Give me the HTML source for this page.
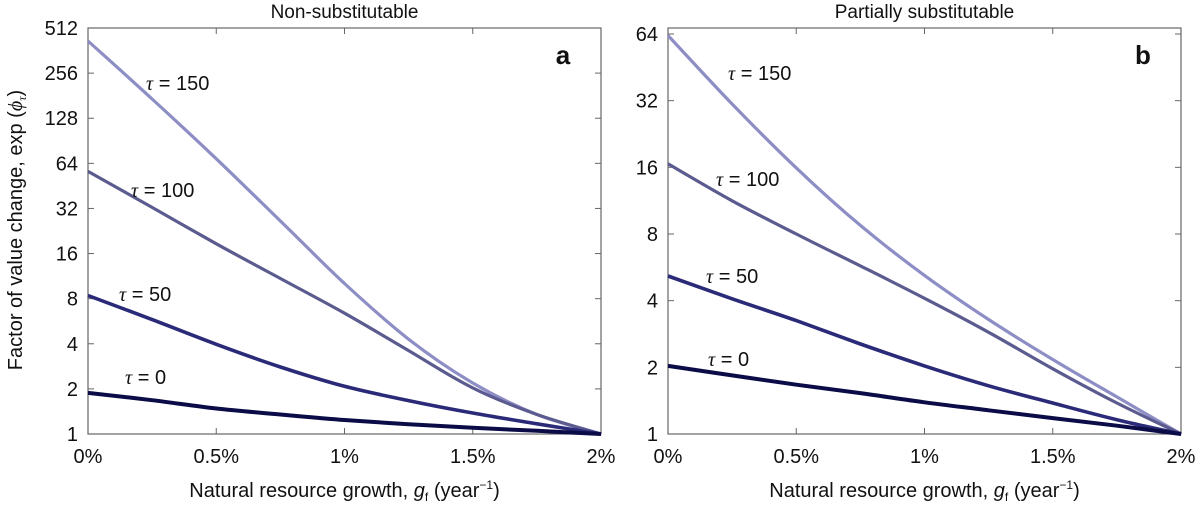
<!DOCTYPE html>
<html><head><meta charset="utf-8">
<style>
html,body{margin:0;padding:0;background:#fff;}
svg{display:block;font-family:"Liberation Sans",Arial,sans-serif;}
</style></head>
<body>
<svg id="chart" width="1200" height="506" viewBox="0 0 1200 506" xmlns="http://www.w3.org/2000/svg">
<text transform="translate(22,230) rotate(-90)" text-anchor="middle" font-size="20" fill="#111">Factor of value change, exp (<tspan font-family="Liberation Serif" font-style="italic">ϕ</tspan><tspan font-size="12" dy="4" font-family="Liberation Serif" font-style="italic">τ</tspan><tspan dy="-4">)</tspan></text>
</svg>
<script>
const xTicks = [0, 0.5, 1, 1.5, 2];
const xTickLabels = ["0%", "0.5%", "1%", "1.5%", "2%"];
const xGrid = [0, 0.25, 0.5, 0.75, 1, 1.25, 1.5, 1.75, 2];
const taus = ["150", "100", "50", "0"];
const aTicks = [1, 2, 4, 8, 16, 32, 64, 128, 256, 512];
const bTicks = [1, 2, 4, 8, 16, 32, 64];
const a150 = [419, 172, 68.6, 26.4, 10.1, 4.29, 2.19, 1.35, 1];
const a100 = [56.5, 32.5, 18.6, 10.9, 6.4, 3.6, 2.03, 1.35, 1];
const a50 = [8.4, 5.8, 3.97, 2.8, 2.08, 1.67, 1.38, 1.17, 1];
const a0 = [1.88, 1.68, 1.48, 1.35, 1.24, 1.16, 1.10, 1.05, 1];
const b150 = [63, 30.9, 15.9, 8.75, 5.2, 3.29, 2.17, 1.47, 1];
const b100 = [16.6, 11.3, 8.0, 5.74, 4.1, 2.88, 1.97, 1.38, 1];
const b50 = [5.17, 4.08, 3.25, 2.55, 2.03, 1.65, 1.38, 1.16, 1];
const b0 = [2.03, 1.84, 1.67, 1.53, 1.39, 1.28, 1.18, 1.09, 1];

const NS = "http://www.w3.org/2000/svg";
const svg = document.getElementById("chart");
function mk(tag, attrs, parent) {
  const e = document.createElementNS(NS, tag);
  for (const k in attrs) e.setAttribute(k, attrs[k]);
  (parent || svg).appendChild(e);
  return e;
}
function smooth(pts) {
  let d = "M" + pts[0][0].toFixed(1) + "," + pts[0][1].toFixed(1);
  for (let i = 0; i < pts.length - 1; i++) {
    const p0 = pts[Math.max(0, i - 1)], p1 = pts[i], p2 = pts[i + 1], p3 = pts[Math.min(pts.length - 1, i + 2)];
    const c1 = [p1[0] + (p2[0] - p0[0]) / 6, p1[1] + (p2[1] - p0[1]) / 6];
    const c2 = [p2[0] - (p3[0] - p1[0]) / 6, p2[1] - (p3[1] - p1[1]) / 6];
    d += " C" + c1[0].toFixed(1) + "," + c1[1].toFixed(1) + " " + c2[0].toFixed(1) + "," + c2[1].toFixed(1) + " " + p2[0].toFixed(1) + "," + p2[1].toFixed(1);
  }
  return d;
}
const colors = ["#8e8ec6", "#5b5b8f", "#2a2a78", "#0b0b48"];
const widths = [3.2, 3.2, 3.6, 4];

function panel(cfg) {
  const g = mk("g", {});
  
  
  const L = cfg.left, R = cfg.left + 513, T = 28, B = 434;
  const xs = v => L + (v / 2) * (R - L);
  const ys = v => B - Math.log2(v) / cfg.maxLog * (B - T);
  const frame = mk("rect", {x: L, y: T, width: R - L, height: B - T, fill: "none", stroke: "#666", "stroke-width": 1.2}, g);
  
  
  const title = mk("text", {x: (L + R) / 2, y: 18, "text-anchor": "middle", "font-size": 19, fill: "#111"}, g);
  title.textContent = cfg.title;
  
  
  const letter = mk("text", {x: R - 38, y: 64, "text-anchor": "middle", "font-size": 26, "font-weight": "bold", fill: "#111"}, g);
  letter.textContent = cfg.letter;
  
  
  xTicks.forEach((t, i) => {
    const x = xs(t);
    mk("line", {x1: x, y1: B, x2: x, y2: B - 6, stroke: "#666", "stroke-width": 1}, g);
    mk("line", {x1: x, y1: T, x2: x, y2: T + 6, stroke: "#666", "stroke-width": 1}, g);
    const lb = mk("text", {x: x, y: 463, "text-anchor": "middle", "font-size": 20, fill: "#111"}, g);
    lb.textContent = xTickLabels[i];
    
    
  });
  cfg.yTicks.forEach(t => {
    const y = ys(t);
    mk("line", {x1: L, y1: y, x2: L + 6, y2: y, stroke: "#666", "stroke-width": 1}, g);
    mk("line", {x1: R, y1: y, x2: R - 6, y2: y, stroke: "#666", "stroke-width": 1}, g);
    const lb = mk("text", {x: L - 10, y: y + 7, "text-anchor": "end", "font-size": 20, fill: "#111"}, g);
    lb.textContent = String(t);
    
    
  });
  const xt = mk("text", {x: (L + R) / 2, y: 497, "text-anchor": "middle", "font-size": 20, fill: "#111"}, g);
  xt.innerHTML = 'Natural resource growth, <tspan font-style="italic">g</tspan><tspan font-size="12" dy="4">f</tspan><tspan dy="-4"> (year</tspan><tspan font-size="12" dy="-8">−1</tspan><tspan dy="8">)</tspan>';
  
  
  cfg.series.forEach((s, k) => {
    const pts = s.map((v, i) => [xs(xGrid[i]), ys(v)]);
    const p = mk("path", {d: smooth(pts), fill: "none", stroke: colors[k], "stroke-width": widths[k], "stroke-linejoin": "round"}, g);
    
    
    const lp = cfg.labels[k];
    const t = mk("text", {x: lp[0], y: lp[1], "font-size": 20, fill: "#111"}, g);
    t.setAttribute("xml:space", "preserve");
    t.innerHTML = '<tspan font-family="Liberation Serif" font-style="italic">τ</tspan>' + (taus[k] === "0" ? "   = 0" : " = " + taus[k]);
    
    
  });
}
panel({name: "panel-a", left: 88, maxLog: 9, title: "Non-substitutable", letter: "a", yTicks: aTicks,
  series: [a150, a100, a50, a0], labels: [[146, 90], [131, 197], [119, 301], [125, 384]]});
panel({name: "panel-b", left: 668, maxLog: 6.09, title: "Partially substitutable", letter: "b", yTicks: bTicks,
  series: [b150, b100, b50, b0], labels: [[728, 80], [716, 186], [706, 283], [708, 366]]});
</script>
</body></html>
